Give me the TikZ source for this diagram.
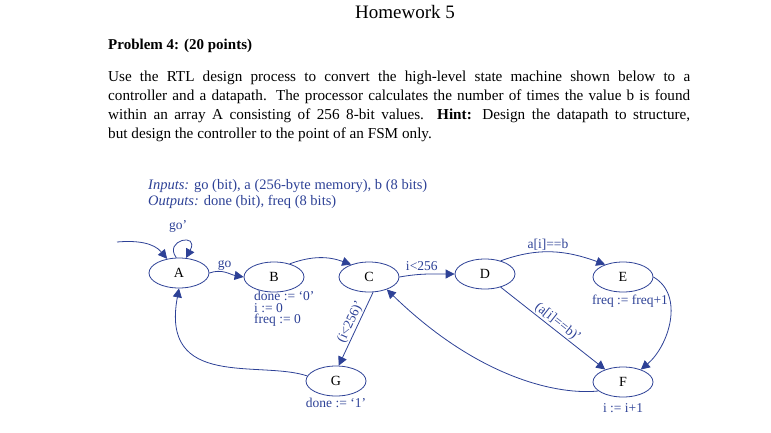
\documentclass[tikz,border=0pt]{standalone}
\usepackage{fontspec}
\setmainfont{Liberation Serif}
\usetikzlibrary{shapes.geometric,arrows.meta}
\definecolor{dg}{RGB}{45,65,150}
\begin{document}
\begin{tikzpicture}[x=1pt,y=-1pt,
 st/.style={ellipse,draw=dg,thick,minimum width=60pt,minimum height=30pt,inner sep=0pt,font=\fontsize{14}{14}\selectfont},
 ed/.style={draw=dg,thick,-{Triangle[length=9pt,width=9pt]},fill=none},
 lb/.style={text=dg,font=\fontsize{13.5}{13.5}\selectfont,inner sep=1pt}]
\useasboundingbox (0,0) rectangle (771,432);
\node[font=\fontsize{19}{19}\selectfont] (title) at (405,12) {Homework 5};
\node[anchor=west,font=\bfseries\fontsize{15}{15}\selectfont,inner sep=0pt] (prob) at (108,46) {Problem 4: (20 points)};
\node[anchor=north west,inner sep=0pt,text width=582pt,align=justify,font=\fontsize{15.2}{19}\selectfont] (para) at (108,71)
 {Use the RTL design process to convert the high-level state machine shown below to a\linebreak controller and a datapath. The processor calculates the number of times the value b is found\linebreak within an array A consisting of 256 8-bit values. \textbf{Hint:} Design the datapath to structure,\linebreak but design the controller to the point of an FSM only.};
\node[anchor=west,lb,inner sep=0pt,font=\fontsize{14.5}{14.5}\selectfont] (in) at (148,186) {\textit{Inputs:} go (bit), a (256-byte memory), b (8 bits)};
\node[anchor=west,lb,inner sep=0pt,font=\fontsize{14.5}{14.5}\selectfont] (out) at (148,202) {\textit{Outputs:} done (bit), freq (8 bits)};
\node[st] (A) at (179,273) {A};
\node[st] (B) at (274,277) {B};
\node[st] (C) at (369,277) {C};
\node[st] (D) at (485,274) {D};
\node[st] (E) at (623,277) {E};
\node[st] (F) at (623,382) {F};
\node[st] (G) at (336,381) {G};
\coordinate (s) at (117,242);
\draw[ed] (s) to[out=5,in=130] (A.130);
\draw[ed] (A.100) .. controls (163,240) and (200,232) .. (A.65);
\node[lb] (l1) at (178,226) {go'};
\draw[ed] (A.east) to[out=20,in=170] node[lb,above,pos=0.45] {go} (B.west);
\draw[ed] (B.40) to[out=20,in=160] (C.145);
\draw[ed] (C.east) to[out=10,in=180] node[lb,above,pos=0.4,yshift=2pt] {i<256} (D.west);
\draw[ed] (D.40) to[out=20,in=160] node[lb,above,pos=0.45] {a[i]==b} (E.145);
\draw[ed] (E.east) to[out=-30,in=40] (F.35);
\draw[ed] (D.-40) -- node[lb,sloped,above,pos=0.5] {(a[i]==b)'} (F.145);
\draw[ed] (F.200) .. controls (560,395) and (480,380) .. (C.-35);
\draw[ed] (C.-75) -- node[lb,sloped,above,pos=0.45] {(i<256)'} (G.80);
\draw[ed] (G.170) .. controls (260,360) and (160,390) .. (A.-90);
\node[lb,anchor=north west,align=left] (bt) at (253,290) {done := `0'\\[-2pt]i := 0\\[-2pt]freq := 0};
\node[lb] (et) at (630,301) {freq := freq+1};
\node[lb] (ft) at (623,408) {i := i+1};
\node[lb] (gt) at (336,403) {done := `1'};
\end{tikzpicture}
\end{document}
